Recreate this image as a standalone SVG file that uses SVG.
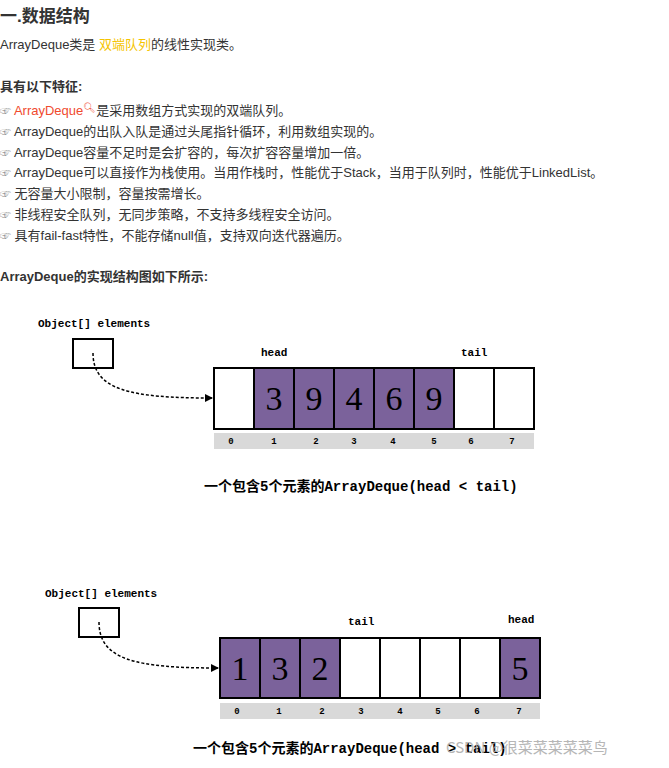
<svg xmlns="http://www.w3.org/2000/svg" width="669" height="768" viewBox="0 0 669 768">
<style>
.t{font-family:"Liberation Sans","Noto Sans CJK SC",sans-serif;font-size:13px;fill:#333}
.b{font-weight:bold}
.ic{fill:#999;font-size:11px}
.m{font-family:"Liberation Mono","Noto Sans CJK SC",monospace;font-size:11px;font-weight:bold;fill:#000}
.idx{font-family:"Liberation Mono",monospace;font-size:9px;font-weight:bold;fill:#000;text-anchor:middle}
.num{font-family:"Liberation Serif",serif;font-size:34px;fill:#000;text-anchor:middle}
.cap{font-family:"Liberation Mono","Noto Sans CJK SC",monospace;font-size:14px;font-weight:bold;fill:#000}
.c{stroke:#000;stroke-width:2;fill:#fff}
.p{fill:#7b629b}
.bar{fill:#d9d9d9}
.con{fill:none;stroke:#000;stroke-width:1.5;stroke-dasharray:3,2}
</style>
<defs><marker id="ar" markerWidth="8" markerHeight="8" refX="7" refY="4" orient="auto" markerUnits="userSpaceOnUse"><path d="M0,0L8,4L0,8z" fill="#000"/></marker></defs>
<rect width="669" height="768" fill="#fff"/>
<g id="text">
<text x="0" y="22" class="t b" style="font-size:17px">一.数据结构</text>
<text x="0" y="49" class="t">ArrayDeque类是 <tspan style="fill:#f5c400">双端队列</tspan>的线性实现类。</text>
<text x="0" y="91" class="t b">具有以下特征:</text>
<text x="0" y="115" class="t"><tspan class="ic">☞</tspan> <tspan style="fill:#f04a2e">ArrayDeque</tspan><tspan style="fill:#f04a2e;font-size:10px" dy="-4">🔍︎</tspan><tspan dy="4">是采用数组方式实现的双端队列。</tspan></text>
<text x="0" y="136" class="t"><tspan class="ic">☞</tspan> ArrayDeque的出队入队是通过头尾指针循环，利用数组实现的。</text>
<text x="0" y="157" class="t"><tspan class="ic">☞</tspan> ArrayDeque容量不足时是会扩容的，每次扩容容量增加一倍。</text>
<text x="0" y="177" class="t"><tspan class="ic">☞</tspan> ArrayDeque可以直接作为栈使用。当用作栈时，性能优于Stack，当用于队列时，性能优于LinkedList。</text>
<text x="0" y="198" class="t"><tspan class="ic">☞</tspan> 无容量大小限制，容量按需增长。</text>
<text x="0" y="219" class="t"><tspan class="ic">☞</tspan> 非线程安全队列，无同步策略，不支持多线程安全访问。</text>
<text x="0" y="240" class="t"><tspan class="ic">☞</tspan> 具有fail-fast特性，不能存储null值，支持双向迭代器遍历。</text>
<text x="0" y="281" class="t b">ArrayDeque的实现结构图如下所示:</text>
</g>
<g id="d1">
<text x="38" y="327" class="m">Object[] elements</text>
<rect x="73" y="339" width="40" height="29" class="c"/>
<text x="261" y="356" class="m">head</text>
<text x="461" y="356" class="m">tail</text>
<rect x="214" y="368" width="40" height="61" class="c"/>
<rect x="254" y="368" width="40" height="61" class="c p"/>
<rect x="294" y="368" width="40" height="61" class="c p"/>
<rect x="334" y="368" width="40" height="61" class="c p"/>
<rect x="374" y="368" width="40" height="61" class="c p"/>
<rect x="414" y="368" width="40" height="61" class="c p"/>
<rect x="454" y="368" width="40" height="61" class="c"/>
<rect x="494" y="368" width="40" height="61" class="c"/>
<text x="274" y="410" class="num">3</text><text x="314" y="410" class="num">9</text><text x="354" y="410" class="num">4</text><text x="394" y="410" class="num">6</text><text x="434" y="410" class="num">9</text>
<rect x="214" y="433" width="320" height="16" class="bar"/>
<text x="231" y="444" class="idx">0</text><text x="274" y="444" class="idx">1</text><text x="316" y="444" class="idx">2</text><text x="354" y="444" class="idx">3</text><text x="393" y="444" class="idx">4</text><text x="434" y="444" class="idx">5</text><text x="471" y="444" class="idx">6</text><text x="512" y="444" class="idx">7</text>
<text x="204" y="491" class="cap">一个包含5个元素的ArrayDeque(head &lt; tail)</text>
</g>
<g id="d2">
<text x="45" y="597" class="m">Object[] elements</text>
<rect x="79" y="608" width="40" height="29" class="c"/>
<text x="348" y="625" class="m">tail</text>
<text x="508" y="623" class="m">head</text>
<rect x="220" y="638" width="40" height="60" class="c p"/>
<rect x="260" y="638" width="40" height="60" class="c p"/>
<rect x="300" y="638" width="40" height="60" class="c p"/>
<rect x="340" y="638" width="40" height="60" class="c"/>
<rect x="380" y="638" width="40" height="60" class="c"/>
<rect x="420" y="638" width="40" height="60" class="c"/>
<rect x="460" y="638" width="40" height="60" class="c"/>
<rect x="500" y="638" width="40" height="60" class="c p"/>
<text x="240" y="680" class="num">1</text><text x="280" y="680" class="num">3</text><text x="320" y="680" class="num">2</text><text x="520" y="680" class="num">5</text>
<rect x="220" y="703" width="320" height="16" class="bar"/>
<text x="237" y="714" class="idx">0</text><text x="279" y="714" class="idx">1</text><text x="322" y="714" class="idx">2</text><text x="361" y="714" class="idx">3</text><text x="400" y="714" class="idx">4</text><text x="438" y="714" class="idx">5</text><text x="477" y="714" class="idx">6</text><text x="519" y="714" class="idx">7</text>
<text x="193" y="753" class="cap">一个包含5个元素的ArrayDeque(head &gt; tail)</text>
<text x="446" y="753" style="font-family:'Noto Sans CJK SC',sans-serif;font-size:15px;fill:#aaa;opacity:0.85">CSDN @很菜菜菜菜菜鸟</text>
</g>
<g id="connectors">
<path d="M93,353 C93,390 130,398 212,398" class="con" marker-end="url(#ar)"/>
<path d="M99,622 C99,660 136,668 218,668" class="con" marker-end="url(#ar)"/>
</g>
</svg>
